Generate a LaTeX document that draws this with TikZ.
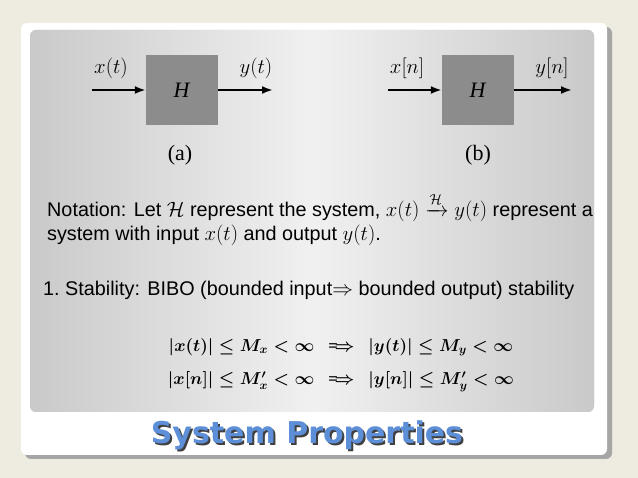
\documentclass[tikz,border=0pt]{standalone}
\usepackage{amsmath,amssymb}
\usepackage{fontspec}
\setmainfont{Liberation Serif}
\newfontfamily\arialf{Liberation Sans}
\newfontfamily\titlef{DejaVu Sans}
\usetikzlibrary{arrows.meta}
\definecolor{bgc}{HTML}{EEEBE0}
\definecolor{titleblue}{HTML}{5D8FD8}
\begin{document}
\begin{tikzpicture}[x=1pt,y=-1pt,
  blk/.style={fill=black!45,minimum width=72pt,minimum height=70pt,inner sep=0,font=\fontsize{22}{24}\selectfont},
  sig/.style={-{Latex[length=11pt,width=8pt]},line width=2.4pt},
  lbl/.style={font=\fontsize{22}{24}\selectfont},
  txt/.style={font=\arialf\fontsize{19.8}{22}\selectfont,anchor=west,inner sep=0},
  eq/.style={font=\fontsize{16.8}{20}\selectfont\boldmath,inner sep=0}]
\useasboundingbox (0,0) rectangle (638,478);
\fill[bgc] (0,0) rectangle (638,478);
\fill[black!35,rounded corners=6pt] (25,27) rectangle (612,459);
\fill[white,rounded corners=6pt] (21,23) rectangle (607,455);
\shade[left color=black!38,right color=black!38,middle color=black!10,rounded corners=6pt] (30,30) rectangle (594,412);
\shade[top color=black!0,bottom color=white,opacity=0.45,rounded corners=6pt] (30,30) rectangle (594,412);
% (a)
\node[blk] (Ha) at (182,90) {\textit{H}};
\coordinate (ain) at (92,90);
\coordinate (aout) at (273,90);
\draw[sig] (ain) -- (Ha.west);
\draw[sig] (Ha.east) -- (aout);
\node[lbl] (xa) at (111,68) {$x(t)$};
\node[lbl] (ya) at (256,68) {$y(t)$};
\node[lbl] (la) at (180,155) {(a)};
% (b)
\node[blk] (Hb) at (478,90) {\textit{H}};
\coordinate (bin) at (388,90);
\coordinate (bout) at (572,90);
\draw[sig] (bin) -- (Hb.west);
\draw[sig] (Hb.east) -- (bout);
\node[lbl] (xb) at (407,68) {$x[n]$};
\node[lbl] (yb) at (552,68) {$y[n]$};
\node[lbl] (lb) at (478,155) {(b)};
% text
\node[txt] (t1) at (47,207) {Notation: Let $\mathcal{H}$ represent the system, $x(t)\xrightarrow{\mathcal{H}}y(t)$ represent a};
\node[txt] (t2) at (47,235) {system with input $x(t)$ and output $y(t)$.};
\node[txt] (t3) at (43,290) {1.\ Stability: BIBO (bounded input$\Rightarrow$ bounded output) stability};
\node[eq] (e1) at (341,347) {$|x(t)|\le M_x<\infty\ \ \Longrightarrow\ \ |y(t)|\le M_y<\infty$};
\node[eq] (e2) at (341,382) {$|x[n]|\le M_x'<\infty\ \ \Longrightarrow\ \ |y[n]|\le M_y'<\infty$};
% title
\node[font=\titlef\bfseries\fontsize{30}{34}\selectfont,text=black!75] at (309,437) {System Properties};
\node[font=\titlef\bfseries\fontsize{30}{34}\selectfont,text=titleblue] (title) at (307,435) {System Properties};
\end{tikzpicture}
\end{document}
